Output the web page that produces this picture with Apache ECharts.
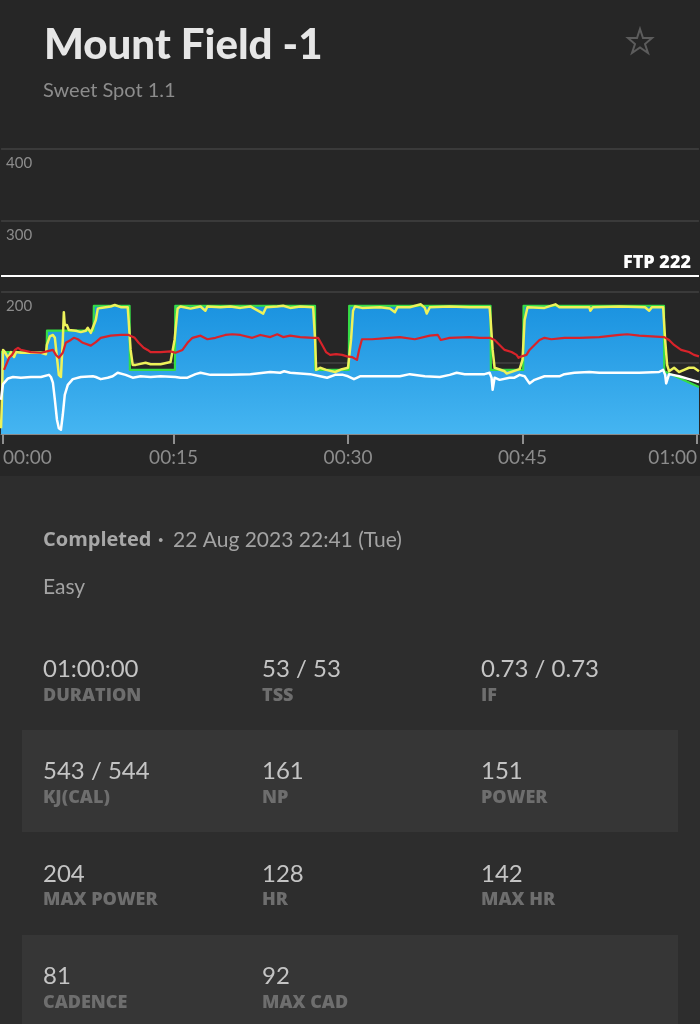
<!DOCTYPE html>
<html><head><meta charset="utf-8">
<script src="https://cdn.jsdelivr.net/npm/echarts@6/dist/echarts.min.js"></script>
<style>html,body{margin:0;padding:0;background:#2d2d2d}#c{width:700px;height:1024px}</style>
</head><body><div id="c"></div>
<script>
const xTicks=[0.34,15,30,45,60];
const xTickLabels=['00:00','00:15','00:30','00:45','01:00'];
const yTicks=[100,200,300,400];
const ftp=222;
const targetPower=[[0.17,115],[4.09,115],[4.12,145],[8.12,145],[8.15,180],[11.22,180],[11.25,90],[15.12,90],[15.15,180],[27.16,180],[27.19,90],[30.07,90],[30.1,180],[42.25,180],[42.28,90],[45.06,90],[45.09,180],[57.16,180],[57.19,88],[60.17,66]];
const power=[[0.17,8],[0.25,48],[0.34,118],[0.51,115],[0.77,107],[1.03,115],[1.29,108],[1.46,115],[1.88,114],[2.74,114],[3.6,114],[4.03,112],[4.11,125],[4.37,137],[4.63,139],[4.8,135],[4.98,107],[5.14,83],[5.32,80],[5.48,132],[5.57,171],[5.65,153],[5.83,153],[6,146],[6.6,145],[7.02,143],[7.46,145],[7.63,149],[7.89,142],[8.06,142],[8.32,160],[8.49,176],[8.74,177],[9.6,179],[9.95,181],[10.46,178],[11.06,178],[11.14,160],[11.31,118],[11.49,97],[11.75,97],[12.6,100],[13.03,98],[13.89,98],[14.74,101],[15.09,132],[15.35,176],[15.6,179],[16.46,176],[17.32,179],[17.74,173],[17.91,179],[19.04,178],[19.89,179],[20.75,177],[21.6,179],[22.71,169],[22.96,178],[23.92,179],[24.42,180],[25.03,177],[25.89,179],[27,178],[27.17,132],[27.26,90],[27.6,93],[28.11,90],[28.89,87],[29.49,91],[30,93],[30.26,132],[30.43,173],[30.6,179],[31.2,177],[32.75,178],[33.6,176],[34.03,171],[34.25,178],[35.31,178],[36.26,182],[36.6,177],[36.77,169],[37.03,178],[38.74,179],[40.45,178],[42.17,178],[42.26,160],[42.43,118],[42.6,93],[43.46,88],[43.63,85],[44.75,91],[45,104],[45.18,160],[45.43,178],[46.89,177],[47.83,182],[48.17,178],[50.74,178],[50.83,173],[51.05,178],[53.32,179],[55.53,178],[55.89,173],[56.12,178],[57.09,178],[57.26,132],[57.43,97],[57.6,88],[57.77,87],[58.03,93],[58.46,87],[58.89,90],[59.31,93],[59.74,93],[60.17,88]];
const heartRate=[[0.43,90],[0.6,90],[0.86,107],[1.12,111],[1.37,118],[1.63,121],[1.88,118],[2.74,115],[3.6,114],[4.11,116],[4.63,118],[4.89,111],[5.14,107],[5.48,114],[5.74,128],[6.17,132],[6.43,135],[6.78,133],[7.2,128],[7.89,124],[8.32,129],[8.74,135],[9.6,138],[10.46,139],[11.14,139],[11.66,135],[12,128],[12.43,121],[12.77,118],[13.03,115],[13.89,115],[14.74,116],[15.17,114],[15.77,118],[16.2,128],[16.63,135],[17.32,138],[17.91,133],[18.6,135],[19.45,139],[20.06,140],[20.75,139],[21.77,135],[22.46,139],[23.31,136],[23.92,140],[24.42,136],[25.03,138],[25.89,136],[27,135],[27.43,135],[27.78,125],[28.11,115],[28.46,111],[28.97,112],[29.49,111],[29.91,109],[30.34,108],[30.77,104],[30.95,118],[31.2,133],[32.06,133],[33.6,135],[34.46,136],[35.74,133],[37.03,138],[37.72,139],[37.97,132],[38.74,135],[40.45,136],[41.32,135],[42.17,135],[42.6,132],[43.03,125],[43.46,118],[44.06,115],[44.49,111],[44.66,107],[44.92,109],[45.34,111],[45.6,118],[46.03,125],[46.46,132],[46.89,135],[47.48,133],[48.6,135],[49.89,135],[51.6,136],[53.32,139],[54.01,140],[55.03,138],[57.18,136],[57.6,132],[58.03,125],[58.63,118],[59.31,115],[59.74,111],[60.17,109]];
const cadence=[[0.17,48],[0.34,70],[0.51,70],[0.77,78],[1.2,80],[1.88,79],[2.74,80],[3.6,80],[4.29,83],[4.46,80],[4.63,72],[4.8,48],[4.98,20],[5.14,8],[5.32,6],[5.48,27],[5.65,55],[5.91,69],[6.34,77],[7.03,80],[8.06,81],[8.32,80],[8.74,77],[9.34,79],[9.77,81],[10.2,86],[10.88,83],[11.49,79],[12.17,81],[13.03,80],[13.89,81],[15.17,80],[15.6,79],[16.2,79],[16.89,84],[17.32,86],[18.17,83],[19.89,83],[20.06,81],[21.6,84],[23.31,87],[24.17,86],[24.51,88],[25.03,86],[26.74,84],[27.6,81],[28.2,79],[28.89,83],[29.57,83],[30,81],[30.51,77],[31.03,81],[32.75,81],[34.46,81],[35.31,84],[36.6,81],[37.89,80],[38.74,83],[39.34,86],[40.03,84],[40.45,84],[41.74,84],[42.17,86],[42.34,79],[42.43,62],[42.6,79],[43.03,76],[43.88,79],[44.31,79],[44.75,83],[45.18,81],[45.6,71],[46.03,76],[46.89,81],[48.17,81],[48.6,84],[49.46,86],[50.74,87],[51.6,86],[53.32,86],[55.03,86],[56.74,87],[57.09,90],[57.26,83],[57.35,71],[57.6,84],[58.46,81],[59.31,77],[60.17,73]];

const metricRows=[
 [['01:00:00','DURATION'],['53 / 53','TSS'],['0.73 / 0.73','IF']],
 [['543 / 544','KJ(CAL)'],['161','NP'],['151','POWER']],
 [['204','MAX POWER'],['128','HR'],['142','MAX HR']],
 [['81','CADENCE'],['92','MAX CAD']]
];
const F='Lato, "Open Sans", sans-serif', B='"Open Sans", Lato, sans-serif';
const colX=[43,262,481], valY=[669,771,874,976], labY=[696,798,900,1003];
const gfx=[
 {type:'rect',z:-10,shape:{x:0,y:0,width:700,height:476},style:{fill:'#262626'}},
 {type:'rect',z:-10,shape:{x:0,y:476,width:700,height:548},style:{fill:'#2d2d2d'}},
 {type:'rect',z:-9,shape:{x:22,y:730,width:656,height:102},style:{fill:'#363636'}},
 {type:'rect',z:-9,shape:{x:22,y:935,width:656,height:89},style:{fill:'#363636'}},
 {type:'polygon',shape:{points:[[640,29],[643,38],[652,38],[645,44],[648,53],[640,47.5],[632,53],[635,44],[628,38],[637,38]]},style:{fill:'none',stroke:'#5c5c5c',lineWidth:2}},
 {type:'text',x:44,y:45,style:{text:'Mount Field -1',font:'900 42px '+F,fill:'#e6e6e6',textVerticalAlign:'middle'}},
 {type:'text',x:43,y:91,style:{text:'Sweet Spot 1.1',font:'400 20px '+F,fill:'#8c8c8c',textVerticalAlign:'middle'}},
 {type:'text',x:43,y:540,style:{text:'Completed',font:'700 20px '+B,fill:'#a8a8a8',textVerticalAlign:'middle'}},
 {type:'text',x:158,y:540,style:{text:'·',font:'700 20px '+F,fill:'#a8a8a8',textVerticalAlign:'middle'}},
 {type:'text',x:173,y:540,style:{text:'22 Aug 2023 22:41 (Tue)',font:'400 21px '+F,fill:'#a3a3a3',textVerticalAlign:'middle'}},
 {type:'text',x:43,y:587,style:{text:'Easy',font:'400 21px '+F,fill:'#a3a3a3',textVerticalAlign:'middle'}}
];
metricRows.forEach((row,r)=>row.forEach((m,c)=>{
 gfx.push({type:'text',x:colX[c],y:valY[r],style:{text:m[0],font:'400 24px '+F,fill:'#c4c4c4',textVerticalAlign:'middle'}});
 gfx.push({type:'text',x:colX[c],y:labY[r],style:{text:m[1],font:'800 18px '+B,fill:'#6e6e6e',textVerticalAlign:'middle'}});
}));
const chart=echarts.init(document.getElementById('c'),null,{renderer:'canvas'});
const line=(name,data,color,width,z,extra)=>Object.assign({type:'line',name,data,z,symbol:'none',smooth:false,clip:true,animation:false,silent:true,lineStyle:{color,width,join:'round'}},extra||{});
chart.setOption({
 animation:false,backgroundColor:'#262626',
 graphic:{elements:gfx},
 grid:{left:0,right:0,top:149,bottom:590,containLabel:false},
 xAxis:{type:'value',min:0.17,max:60.17,
  splitLine:{show:false},
  axisLine:{show:true,onZero:false,lineStyle:{color:'#8a8a8a',width:1}},
  axisTick:{show:true,length:10,customValues:xTicks,lineStyle:{color:'#8f8f8f',width:2}},
  axisLabel:{show:true,customValues:xTicks,margin:14,fontFamily:F,fontSize:19,color:'#8c8c8c',
   alignMinLabel:'left',alignMaxLabel:'right',showMinLabel:true,showMaxLabel:true,
   formatter:v=>xTickLabels[xTicks.indexOf(v)]}},
 yAxis:{type:'value',min:0,max:400,interval:100,
  axisLine:{show:false},axisTick:{show:false},
  splitLine:{show:true,lineStyle:{color:'#3a3a3a',width:2}},
  axisLabel:{inside:true,margin:5,verticalAlign:'top',padding:[7,0,0,0],fontFamily:F,fontSize:15,color:'#8c8c8c',
   formatter:v=>(v>100&&yTicks.includes(v))?String(v):''}},
 series:[
  line('Target',targetPower,'#35dc45',2.2,2,{
   areaStyle:{opacity:1,color:new echarts.graphic.LinearGradient(0,0,0,1,[{offset:0,color:'#1b93e0'},{offset:1,color:'#45b5f1'}])},
   markLine:{silent:true,symbol:'none',animation:false,lineStyle:{color:'#ffffff',width:2,type:'solid'},
    data:[{yAxis:ftp}],
    label:{show:true,position:'insideEndTop',distance:[8,4],formatter:'FTP '+ftp,fontFamily:B,fontWeight:800,fontSize:18,color:'#ffffff'}}}),
  line('Heart rate',heartRate,'#d8232a',2.2,4),
  line('Power',power,'#eef25a',2.5,3),
  line('Cadence',cadence,'#ffffff',2.5,5)
 ]
});
</script></body></html>
